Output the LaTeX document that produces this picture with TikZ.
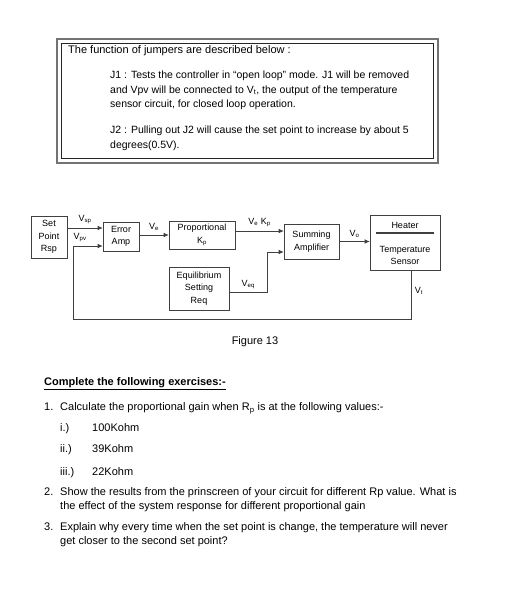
\documentclass[tikz,border=0pt]{standalone}
\usepackage{fontspec}
\setmainfont{Liberation Sans}
\usetikzlibrary{arrows.meta}
\tikzset{
  blk/.style={draw=black!75, line width=0.6pt, align=center, inner sep=0pt, font=\fontsize{9}{12.5}\selectfont},
  sig/.style={font=\fontsize{9}{11}\selectfont, inner sep=0pt},
  wire/.style={draw=black!75, line width=0.6pt},
  arr/.style={wire, -{Latex[length=5pt,width=4.5pt]}},
  txt/.style={anchor=west, inner sep=0pt, text height=8pt, text depth=2.5pt, font=\fontsize{11}{14}\selectfont},
  ntxt/.style={txt, font=\fontsize{10.5}{14}\selectfont},
}
\begin{document}
\begin{tikzpicture}[x=1pt, y=-1pt]
    \useasboundingbox[fill=white] (0,0) rectangle (506,604);

    % Jumper note
    \draw[line width=1.8pt, black!55] (57,39) rectangle (438,163);
    \draw[line width=0.6pt, black!85] (61.5,43.5) rectangle (433.5,158.5);
    \node[txt] (note) at (68,51) {The function of jumpers are described below :};
    \node[ntxt] (jonea) at (110,76) {J1 : Tests the controller in “open loop” mode. J1 will be removed};
    \node[ntxt] (joneb) at (110,90.5) {and Vpv will be connected to V\textsubscript{t}, the output of the temperature};
    \node[ntxt] (jonec) at (110,105) {sensor circuit, for closed loop operation.};
    \node[ntxt] (jtwoa) at (110,131) {J2 : Pulling out J2 will cause the set point to increase by about 5};
    \node[ntxt] (jtwob) at (110,145.5) {degrees(0.5V).};

    % Blocks
    \node[blk, minimum width=36, minimum height=42] (setpt) at (49,237) {Set\\Point\\Rsp};
    \node[blk, minimum width=36, minimum height=29] (erramp) at (121,236.5) {Error\\Amp};
    \node[blk, minimum width=66, minimum height=28] (prop) at (202,235) {Proportional\\K\textsubscript{p}};
    \node[blk, minimum width=60, minimum height=43] (equil) at (199,288.5) {Equilibrium\\Setting\\Req};
    \node[blk, minimum width=55, minimum height=35] (summ) at (311.5,241.5) {Summing\\Amplifier};
    \node[blk, minimum width=70, minimum height=55] (plant) at (405,243) {};
    \node[sig] (heater) at (405,225) {Heater};
    \node[sig, align=center, font=\fontsize{9}{12}\selectfont] (sensor) at (405,255) {Temperature\\Sensor};
    \coordinate (sepy) at (0,233);
    \draw[line width=1.3pt, black!75] ([xshift=6pt]plant.west |- sepy) -- ([xshift=-6pt]plant.east |- sepy);
    \coordinate (fbk) at (73,319);

    % Signals
    \draw[arr] ([yshift=9pt]setpt.east) -- ([yshift=9pt]setpt.east -| erramp.west) node[sig, midway, above=4pt] {V\textsubscript{sp}};
    \draw[arr] ([xshift=6pt]plant.south) |- (fbk) |- ([yshift=-9.5pt]erramp.west) node[sig, pos=0.62, above=4pt] {V\textsubscript{pv}};
    \draw[arr] (erramp.east |- prop.west) -- (prop.west) node[sig, midway, above=4pt] {V\textsubscript{e}};
    \draw[arr] ([yshift=10.5pt]summ.west -| prop.east) -- ([yshift=10.5pt]summ.west) node[sig, midway, above=4pt] {V\textsubscript{e} K\textsubscript{p}};
    \draw[arr] ([yshift=-3.5pt]equil.east) -- ++(38,0) node[sig, midway, above=3pt] {V\textsubscript{eq}} |- ([yshift=-10.5pt]summ.west);
    \draw[arr] (summ.east) -- (summ.east -| plant.west) node[sig, midway, above=4pt] {V\textsubscript{o}};
    \node[sig] (vt) at (419,291) {V\textsubscript{t}};

    \node[txt, anchor=center] (fig) at (255,342) {Figure 13};

    % Exercises
    \node[txt] (head) at (44,383) {\underline{\textbf{Complete the following exercises:-}}};
    \node[txt] (qone) at (44,408) {1.};
    \node[txt] (qonet) at (60,408) {Calculate the proportional gain when R\textsubscript{p} is at the following values:-};
    \node[txt] (ri) at (60,429) {i.)};
    \node[txt] (rit) at (92,429) {100Kohm};
    \node[txt] (rii) at (60,450) {ii.)};
    \node[txt] (riit) at (92,450) {39Kohm};
    \node[txt] (riii) at (60,473) {iii.)};
    \node[txt] (riiit) at (92,473) {22Kohm};
    \node[txt] (qtwo) at (44,493) {2.};
    \node[txt] (qtwoa) at (60,493) {Show the results from the prinscreen of your circuit for different Rp value. What is};
    \node[txt] (qtwob) at (60,507) {the effect of the system response for different proportional gain};
    \node[txt] (qthree) at (44,528) {3.};
    \node[txt] (qthreea) at (60,528) {Explain why every time when the set point is change, the temperature will never};
    \node[txt] (qthreeb) at (60,542) {get closer to the second set point?};
\end{tikzpicture}
\end{document}
